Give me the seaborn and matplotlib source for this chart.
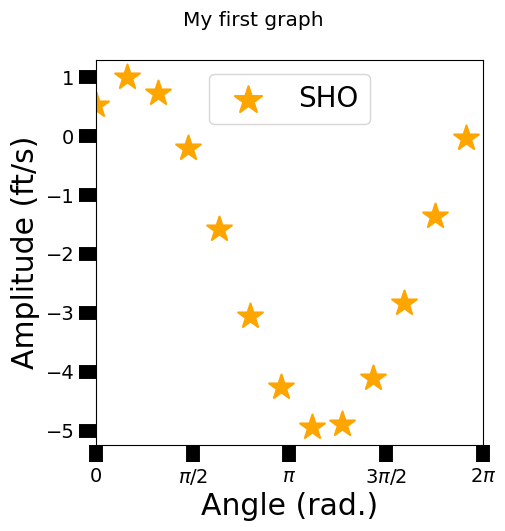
import numpy as np
import pandas as pd
import seaborn as sns
from matplotlib import pyplot as plt

# values
angle = [0.0, 0.5, 1.0, 1.5, 2.0, 2.5, 3.0, 3.5, 4.0, 4.5, 5.0, 5.5, 6.0]
amplitude = [0.53, 1.0, 0.73, -0.2, -1.58, -3.05, -4.25, -4.93, -4.88, -4.10, -2.83, -1.36, -0.03]
tick_pos = [0, np.pi / 2, np.pi, 3 * np.pi / 2, 2 * np.pi]
tick_labels = ['0', r'$\pi/2$', r'$\pi$', r'$3\pi/2$', r'$2\pi$']

df = pd.DataFrame({'angle': angle, 'amplitude': amplitude})

fig = plt.figure(figsize=(5.06, 5.31), dpi=100)
ax = fig.add_axes([96 / 506, 1 - 445 / 531, 387 / 506, 385 / 531])

sns.scatterplot(data=df, x='angle', y='amplitude', ax=ax, marker='*', s=350,
                color='orange', edgecolor='orange', label='SHO')

ax.set_xlim(0, 2 * np.pi)
ax.set_ylim(-5.24, 1.29)
ax.set_xticks(tick_pos, tick_labels)
ax.set_yticks([1, 0, -1, -2, -3, -4, -5])
ax.tick_params(width=10, length=12, labelsize=14)
ax.set_xlabel('Angle (rad.)', fontsize=21.5)
ax.set_ylabel('Amplitude (ft/s)', fontsize=21.5)
ax.legend(loc='upper center', fontsize=20, markerscale=1.1)
fig.suptitle('My first graph', fontsize=14.5, y=0.98)

fig.savefig('out.png', dpi=100)
